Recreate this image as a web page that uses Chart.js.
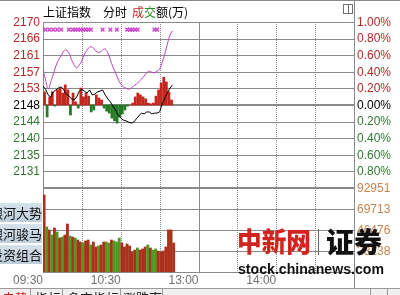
<!DOCTYPE html>
<html>
<head>
<meta charset="utf-8">
<script src="https://cdn.jsdelivr.net/npm/chart.js@4"></script>
<style>
  html, body { margin: 0; padding: 0; background: #fff; }
  #wrap { width: 400px; height: 295px; }
</style>
</head>
<body>
<div id="wrap"><canvas id="chart" width="400" height="295"></canvas></div>
<script>
// Trading minutes since 09:30 (lunch break removed), one sample every 2 minutes
const minutes = [0, 2, 4, 6, 8, 10, 12, 14, 16, 18, 20, 22, 24, 26, 28, 30, 32, 34, 36, 38, 40,
  42, 44, 46, 48, 50, 52, 54, 56, 58, 60, 62, 64, 66, 68, 70, 72, 74, 76, 78, 80,
  82, 84, 86, 88, 90, 92, 94, 96, 98, 100];

// 上证指数 (black line)
const indexLine = [2153.2, 2152.4, 2150.9, 2150.4, 2151.7, 2152.2, 2152.7, 2153.0, 2152.2, 2151.1, 2150.6,
  2149.9, 2149.6, 2150.4, 2151.9, 2152.4, 2151.9, 2151.4, 2152.2, 2150.9, 2151.1,
  2151.7, 2151.9, 2152.2, 2150.9, 2149.9, 2149.1, 2148.0, 2147.0, 2145.7, 2144.9,
  2144.4, 2144.2, 2143.9, 2143.6, 2143.9, 2144.7, 2145.5, 2146.2, 2146.0, 2146.5,
  2146.5, 2146.0, 2146.2, 2146.2, 2146.5, 2148.6, 2150.1, 2151.4, 2152.7, 2153.5];

// leading line (magenta)
const leadLine = [2157.4, 2154.8, 2152.4, 2154.3, 2156.3, 2158.4, 2160.0, 2161.0, 2162.3, 2162.5, 2161.8,
  2160.0, 2158.7, 2157.9, 2158.7, 2159.7, 2161.5, 2162.5, 2163.3, 2163.3, 2162.5,
  2162.0, 2162.0, 2162.5, 2162.8, 2161.8, 2160.0, 2158.1, 2156.6, 2155.0, 2153.7,
  2153.0, 2152.7, 2152.4, 2152.7, 2153.2, 2153.7, 2154.3, 2155.0, 2155.8, 2156.6,
  2157.1, 2156.8, 2156.6, 2157.1, 2157.6, 2159.4, 2161.5, 2164.1, 2166.4, 2167.5];

// red / green strength bars, drawn from the previous close
const strength = [2153.2, 2151.7, 2145.2, 2150.4, 2151.7, 2148.0, 2152.2, 2152.7, 2151.4, 2153.5, 2152.2,
  2145.7, 2151.4, 2149.1, 2147.5, 2152.7, 2150.4, 2151.4, 2150.6, 2146.5, 2147.0,
  2150.9, 2150.1, 2149.6, 2147.5, 2146.7, 2146.2, 2144.9, 2144.2, 2143.6, 2145.2,
  2146.0, 2147.0, 2148.0, 2148.3, 2148.8, 2150.4, 2151.4, 2150.9, 2150.4, 2149.9,
  2148.8, 2148.6, 2148.8, 2150.6, 2152.2, 2154.0, 2155.5, 2154.3, 2151.7, 2149.6];

// 成交额 (万)
const volume = [85200, 49800, 46500, 40900, 48700, 44300, 37600, 38700, 40900, 53100, 39800,
  38700, 37600, 35400, 33200, 32100, 34300, 35400, 29900, 33200, 27700,
  28800, 29900, 33200, 33200, 32100, 35400, 34300, 33200, 37600, 32100,
  27700, 31000, 28800, 22100, 24300, 26600, 24300, 25500, 27700, 29900,
  26600, 24300, 25500, 23200, 22100, 23200, 27700, 46500, 46500, 32100];
const volumeDir = ['r', 'g', 'r', 'g', 'r', 'g', 'r', 'g', 'r', 'r', 'g',
  'r', 'g', 'r', 'r', 'g', 'r', 'r', 'g', 'r', 'r',
  'g', 'r', 'r', 'g', 'g', 'r', 'g', 'g', 'g', 'r',
  'r', 'r', 'r', 'r', 'r', 'g', 'r', 'r', 'r', 'g',
  'r', 'g', 'g', 'r', 'r', 'r', 'r', 'r', 'r', 'r'];

// pink signal crosses along the top
const signalMinutes = [2, 5, 8, 11, 14, 20, 23, 25, 27, 29, 31, 33, 35, 37, 46, 52, 57, 65, 67, 69, 71, 73, 86, 88];
const signalLevel = 2167.8;

// axes
const basePrice = 2148.3;
const pctLevels = [1.0, 0.8, 0.6, 0.4, 0.2, 0, -0.2, -0.4, -0.6, -0.8];
const priceLabels = ['2170', '2166', '2161', '2157', '2153', '2148', '2144', '2140', '2135', '2131'];
const pctLabels = ['1.00%', '0.80%', '0.60%', '0.40%', '0.20%', '0.00%', '0.20%', '0.40%', '0.60%', '0.80%'];
const volumeLevels = [92951, 69713, 46476, 23238];
const volumeLabels = ['92951', '69713', '46476', '23238'];
const timeMinutes = [0, 60, 120, 180];
const timeLabels = ['09:30', '10:30', '13:00', '14:00'];
const dottedMinutes = [30, 60, 90, 150, 180, 210];
const sessionMinutes = 240;

// price pane takes the upper 166px of the 250px plot, volume the lower 84px
const PRICE_SHARE = 166 / 250;
const priceMax = basePrice * 1.01;
const panePriceMin = basePrice * 0.99;
const priceMin = panePriceMin - (priceMax - panePriceMin) * (1 - PRICE_SHARE) / PRICE_SHARE;
const volumeMax = volumeLevels[0] / (1 - PRICE_SHARE);

const RED = '#b52a24';
const GREEN = '#2f7a2f';
const GRID = '#8a8a8a';
const FONT_NUM = '12px "Liberation Sans", Arial, sans-serif';
const FONT_CJK = '12px "Noto Sans CJK SC", sans-serif';

const decor = {
  id: 'decor',
  beforeDatasetsDraw(chart) {
    const { ctx, chartArea: a, scales: { x, y, yv } } = chart;
    const half = v => Math.round(v) + 0.5;
    ctx.save();
    ctx.strokeStyle = GRID;

    // horizontal rows of the price pane
    pctLevels.forEach(p => {
      const py = y.getPixelForValue(basePrice * (1 + p / 100));
      ctx.beginPath();
      if (p === 0) {
        ctx.lineWidth = 2;
        ctx.moveTo(a.left, Math.round(py)); ctx.lineTo(a.right, Math.round(py));
      } else {
        ctx.lineWidth = 1;
        ctx.moveTo(a.left, half(py)); ctx.lineTo(a.right, half(py));
      }
      ctx.stroke();
    });
    // separator between price and volume
    const sep = Math.round(y.getPixelForValue(panePriceMin));
    ctx.lineWidth = 2;
    ctx.beginPath(); ctx.moveTo(a.left, sep); ctx.lineTo(a.right, sep); ctx.stroke();
    ctx.lineWidth = 1;
    volumeLevels.slice(1).concat([0]).forEach(v => {
      const py = half(yv.getPixelForValue(v));
      ctx.beginPath(); ctx.moveTo(a.left, py); ctx.lineTo(a.right, py); ctx.stroke();
    });

    // verticals
    ctx.setLineDash([1, 1]);
    dottedMinutes.forEach(m => {
      const pxv = half(x.getPixelForValue(m));
      ctx.beginPath(); ctx.moveTo(pxv, a.top); ctx.lineTo(pxv, a.bottom); ctx.stroke();
    });
    ctx.setLineDash([]);
    const mid = half(x.getPixelForValue(120));
    ctx.beginPath(); ctx.moveTo(mid, a.top); ctx.lineTo(mid, a.bottom); ctx.stroke();
    const l = half(x.getPixelForValue(0));
    const r = half(x.getPixelForValue(sessionMinutes));
    ctx.beginPath(); ctx.moveTo(l, a.top); ctx.lineTo(l, a.bottom); ctx.stroke();
    ctx.beginPath(); ctx.moveTo(r, 0); ctx.lineTo(r, 295); ctx.stroke();
    // outer top line
    ctx.beginPath(); ctx.moveTo(0, 0.5); ctx.lineTo(400, 0.5); ctx.stroke();

    // left side buttons
    const btns = ['银河大势', '银河骏马', '投资组合'];
    const tops = [203, 224, 245];
    btns.forEach((t, i) => {
      const g = ctx.createLinearGradient(0, tops[i], 0, tops[i] + 19);
      g.addColorStop(0, '#d6e2ea');
      g.addColorStop(1, '#bccdda');
      ctx.fillStyle = g;
      ctx.fillRect(0, tops[i], 42, 19);
      ctx.fillStyle = '#111';
      ctx.font = '13px "Noto Sans CJK SC", sans-serif';
      ctx.textAlign = 'right';
      ctx.textBaseline = 'middle';
      ctx.fillText(t, 42, tops[i] + 10);
    });

    // bottom tab bar
    ctx.fillStyle = '#efefef';
    ctx.fillRect(0, 289, 400, 6);
    ctx.strokeStyle = '#9a9a9a';
    ctx.beginPath(); ctx.moveTo(0, 288.5); ctx.lineTo(400, 288.5); ctx.stroke();
    [30, 62, 120, 162, 370, 387].forEach(xx => {
      ctx.beginPath(); ctx.moveTo(xx + 0.5, 289); ctx.lineTo(xx + 0.5, 295); ctx.stroke();
    });
    ctx.font = '13px "Noto Sans CJK SC", sans-serif';
    ctx.textBaseline = 'alphabetic';
    ctx.textAlign = 'right';
    ctx.fillStyle = '#d02020';
    ctx.fillText('分时走势', 28, 303);
    ctx.textAlign = 'left';
    ctx.fillStyle = '#222';
    ctx.fillText('指标', 35, 303);
    ctx.fillText('多空指标', 67, 303);
    ctx.fillText('涨跌率', 123, 303);
    ctx.restore();
  },
  afterDraw(chart) {
    const { ctx, chartArea: a, scales: { x, y, yv } } = chart;
    ctx.save();
    ctx.font = FONT_NUM;
    ctx.textBaseline = 'middle';

    // price + percent labels
    pctLevels.forEach((p, i) => {
      const py = y.getPixelForValue(basePrice * (1 + p / 100));
      const c = p > 0 ? RED : (p < 0 ? GREEN : '#000');
      ctx.fillStyle = c;
      ctx.textAlign = 'right';
      ctx.fillText(priceLabels[i], 40, py + 0.5);
      ctx.textAlign = 'left';
      ctx.fillText(pctLabels[i], a.right + 3, py + 0.5);
    });
    // volume labels
    ctx.fillStyle = '#c9834e';
    volumeLevels.forEach((v, i) => {
      ctx.fillText(volumeLabels[i], a.right + 3, yv.getPixelForValue(v) + 0.5);
    });
    // time labels
    ctx.fillStyle = '#707070';
    ctx.textAlign = 'right';
    timeMinutes.forEach((m, i) => {
      ctx.fillText(timeLabels[i], x.getPixelForValue(m), 280.5);
    });

    // title
    ctx.font = FONT_CJK;
    ctx.textAlign = 'left';
    ctx.fillStyle = '#000';
    ctx.fillText('上证指数', 43, 12);
    ctx.fillText('分时', 103, 12);
    ctx.fillStyle = '#c0282a';
    ctx.fillText('成', 132, 12);
    ctx.fillStyle = '#2a8a2a';
    ctx.fillText('交', 144, 12);
    ctx.fillStyle = '#000';
    ctx.fillText('额(万)', 156, 12);

    // small window icon
    ctx.strokeStyle = '#707070';
    ctx.lineWidth = 1;
    ctx.strokeRect(343.5, 4.5, 9, 9);
    ctx.beginPath(); ctx.moveTo(348.5, 4.5); ctx.lineTo(348.5, 13.5); ctx.stroke();

    // watermark
    ctx.textBaseline = 'middle';
    ctx.textAlign = 'left';
    ctx.fillStyle = '#d2231f';
    ctx.font = '900 27px "Noto Sans CJK SC", serif';
    ctx.fillText('中新网', 237, 242, 74);
    ctx.strokeStyle = '#666';
    ctx.beginPath(); ctx.moveTo(318.5, 229); ctx.lineTo(318.5, 255); ctx.stroke();
    ctx.fillStyle = '#111';
    ctx.font = '900 28px "Noto Sans CJK SC", sans-serif';
    ctx.fillText('证券', 326, 242, 57);
    ctx.font = 'bold 15px "Liberation Sans", Arial, sans-serif';
    ctx.textBaseline = 'alphabetic';
    ctx.fillText('stock.chinanews.com', 238, 274, 146);
    ctx.restore();
  }
};

const pts = arr => minutes.map((m, i) => ({ x: m, y: arr[i] }));

new Chart(document.getElementById('chart'), {
  type: 'bar',
  data: {
    datasets: [
      {
        type: 'scatter',
        data: signalMinutes.map(m => ({ x: m, y: signalLevel })),
        yAxisID: 'y',
        pointStyle: 'crossRot',
        pointRadius: 2.6,
        borderColor: '#d040d0',
        borderWidth: 1.3,
        order: 0
      },
      {
        type: 'line',
        data: pts(indexLine),
        yAxisID: 'y',
        borderColor: '#000',
        borderWidth: 1,
        pointRadius: 0,
        tension: 0,
        order: 1
      },
      {
        type: 'line',
        data: pts(leadLine),
        yAxisID: 'y',
        borderColor: '#c23ec8',
        borderWidth: 1,
        pointRadius: 0,
        tension: 0.4,
        order: 2
      },
      {
        data: minutes.map((m, i) => ({ x: m, y: [basePrice, strength[i]] })),
        yAxisID: 'y',
        backgroundColor: strength.map(v => v >= basePrice ? '#c4261e' : '#257a25'),
        barThickness: 2.1,
        order: 3
      },
      {
        data: pts(volume),
        yAxisID: 'yv',
        backgroundColor: volumeDir.map(d => d === 'r' ? '#a8321c' : '#4c9a22'),
        barThickness: 2.2,
        order: 4
      }
    ]
  },
  options: {
    responsive: false,
    animation: false,
    events: [],
    layout: { padding: { left: 43, right: 46, top: 22, bottom: 23 } },
    plugins: { legend: { display: false }, tooltip: { enabled: false } },
    scales: {
      x: { type: 'linear', display: false, min: 0, max: sessionMinutes, offset: false },
      y: { display: false, min: priceMin, max: priceMax },
      yv: { display: false, min: 0, max: volumeMax }
    }
  },
  plugins: [decor]
});
</script>
</body>
</html>
